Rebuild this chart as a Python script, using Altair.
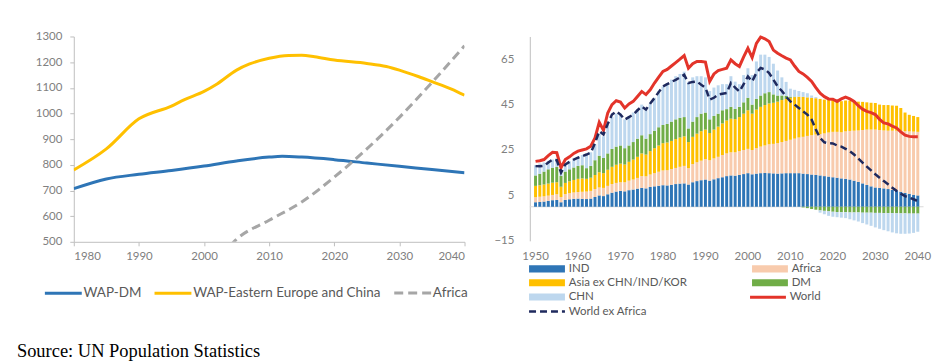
import altair as alt
import pandas as pd

# ---------------- Left panel: working-age population (millions) ----------------
left_names = ["WAP-DM", "WAP-Eastern Europe and China", "Africa"]
left_colors = ["#2E75B6", "#FFC000", "#A6A6A6"]

dm_years = [1980, 1985, 1990, 1995, 2000, 2005, 2010, 2012, 2015, 2020, 2025, 2030, 2035, 2040]
dm_vals = [707, 745, 763, 778, 795, 815, 830, 833, 830, 820, 807, 794, 782, 769]

ee_years = [1980, 1985, 1990, 1995, 1997, 2000, 2002, 2005, 2007, 2010, 2013, 2015, 2017,
            2020, 2025, 2028, 2030, 2033, 2035, 2038, 2040]
ee_vals = [780, 862, 979, 1029, 1054, 1086, 1115, 1169, 1193, 1215, 1226, 1227, 1221,
           1208, 1195, 1183, 1169, 1143, 1124, 1095, 1071]

af_years = [2004, 2005, 2010, 2015, 2020, 2025, 2030, 2035, 2040]
af_vals = [485, 510, 584, 655, 752, 862, 985, 1121, 1264]

# ---------------- Right panel: contributions (stacked bars) ----------------
years = list(range(1950, 2041))
bar_names = ["IND", "Africa", "Asia ex CHN/IND/KOR", "DM", "CHN"]
bar_colors = ["#2E75B6", "#F8CBAD", "#FFC000", "#70AD47", "#BDD7EE"]
# legend reading order (filled column by column)
legend_order = ["IND", "Asia ex CHN/IND/KOR", "CHN", "Africa", "DM"]

ind = [2.0, 2.1, 2.3, 2.6, 2.9, 3.0, 2.0, 3.0, 3.3, 3.5,
       3.6, 3.5, 3.4, 3.6, 4.3, 5.0, 4.7, 5.5, 6.2, 6.7,
       7.0, 6.8, 7.3, 7.6, 8.0, 8.3, 8.1, 8.7, 9.0, 9.3,
       9.5, 9.4, 9.7, 10.0, 10.2, 10.3, 9.8, 10.8, 11.3, 11.7,
       12.0, 11.5, 12.1, 12.6, 13.0, 13.5, 13.8, 13.7, 14.0, 14.4,
       14.8, 14.3, 14.6, 14.8, 14.9, 14.8, 14.7, 14.6, 14.7, 14.8,
       14.8, 14.8, 14.8, 14.6, 14.4, 14.2, 14.0, 13.8, 13.5, 13.3,
       13.0, 12.8, 12.5, 12.3, 12.0, 11.5, 11.0, 10.3, 9.6, 9.0,
       8.5, 8.3, 8.1, 7.8, 7.4, 7.0, 6.6, 6.1, 5.7, 5.3, 5.0]
africa = [2.2, 2.3, 2.3, 2.3, 2.3, 2.5, 2.3, 2.6, 2.7, 2.8,
          2.9, 3.1, 3.3, 3.4, 3.5, 3.5, 3.6, 3.7, 3.8, 3.8,
          3.8, 4.0, 4.2, 4.4, 4.7, 5.2, 5.3, 5.5, 5.8, 6.1,
          6.5, 6.7, 6.9, 7.1, 7.4, 7.7, 7.2, 8.0, 8.3, 8.6,
          9.0, 9.0, 9.2, 9.4, 9.8, 10.0, 10.2, 10.3, 10.5, 10.6,
          10.7, 10.7, 11.2, 11.7, 12.1, 12.7, 13.0, 13.4, 13.8, 14.2,
          14.7, 15.2, 15.7, 16.2, 16.8, 17.3, 17.8, 18.2, 18.8, 19.4,
          20.0, 20.2, 20.3, 20.9, 21.4, 22.0, 22.6, 23.5, 24.4, 25.0,
          25.5, 25.5, 25.5, 25.7, 26.1, 26.5, 26.8, 27.2, 27.5, 27.8, 28.0]
asia = [5.0, 5.1, 5.2, 5.3, 5.4, 5.3, 4.5, 4.9, 5.2, 5.5,
        5.8, 5.9, 5.6, 5.8, 6.2, 6.7, 6.5, 7.1, 7.6, 8.0,
        8.2, 7.8, 8.3, 8.8, 9.3, 10.0, 9.6, 10.3, 11.0, 11.6,
        12.0, 12.2, 12.4, 12.7, 12.9, 13.0, 11.5, 12.0, 12.6, 13.0,
        13.0, 12.0, 12.7, 13.3, 13.9, 14.5, 14.8, 14.6, 15.0, 16.0,
        17.0, 16.0, 17.0, 17.5, 17.8, 18.0, 18.1, 18.3, 18.5, 18.5,
        18.5, 18.3, 18.0, 17.6, 17.0, 16.5, 16.0, 15.5, 14.9, 14.3,
        14.0, 13.8, 13.7, 13.6, 13.4, 13.0, 12.7, 12.4, 12.0, 11.8,
        11.7, 11.2, 11.2, 11.3, 11.1, 11.0, 10.1, 8.2, 7.3, 6.9, 6.5]
dm = [4.6, 5.0, 5.7, 6.3, 6.6, 6.7, 4.7, 5.0, 5.3, 5.5,
      5.7, 5.8, 4.7, 5.2, 6.5, 7.3, 6.7, 7.2, 7.9, 8.0,
      8.0, 7.2, 7.2, 7.7, 8.0, 8.0, 7.0, 7.5, 7.7, 8.0,
      8.0, 8.2, 8.5, 8.7, 8.7, 8.5, 6.0, 6.7, 7.3, 7.7,
      7.5, 6.0, 6.0, 5.7, 5.8, 5.0, 5.2, 4.5, 4.5, 5.0,
      5.5, 4.0, 4.7, 5.0, 5.2, 5.0, 3.7, 2.7, 2.0, 1.3,
      0.5, 0.2, 0.0, -0.3, -0.6, -1.0, -1.3, -1.6, -1.8, -2.0,
      -2.2, -2.3, -2.4, -2.4, -2.5, -2.5, -2.5, -2.6, -2.6, -2.6,
      -2.7, -2.7, -2.8, -2.8, -2.8, -2.9, -2.9, -2.9, -3.0, -3.0, -3.0]
chn = [4.5, 4.5, 4.0, 3.7, 3.6, 3.5, 2.0, 3.0, 3.5, 3.7,
       4.0, 4.5, 6.0, 6.0, 7.0, 9.5, 9.5, 12.5, 14.0, 14.5,
       14.0, 12.7, 13.0, 13.0, 13.0, 13.5, 13.0, 13.5, 14.5, 16.0,
       17.0, 18.0, 18.5, 19.0, 19.3, 20.0, 20.5, 19.5, 18.0, 16.5,
       15.5, 12.5, 12.5, 12.5, 11.5, 11.0, 13.5, 12.0, 10.0, 12.0,
       13.0, 13.0, 16.5, 18.0, 17.0, 15.5, 13.5, 11.0, 8.0, 6.2,
       3.5, 3.0, 2.5, 2.1, 1.8, 1.0, 0.5, -1.0, -1.5, -2.0,
       -2.2, -2.3, -2.4, -2.6, -3.0, -3.5, -4.0, -4.6, -5.2, -5.8,
       -6.4, -7.0, -7.5, -8.0, -8.5, -8.8, -9.0, -9.0, -8.8, -8.5, -8.0]

world = [20.0, 20.3, 20.8, 22.5, 24.0, 23.8, 17.2, 20.8, 22.0, 23.5,
         24.5, 25.0, 25.5, 26.7, 30.3, 37.2, 33.7, 41.3, 45.0, 46.7,
         46.1, 43.5, 45.3, 46.4, 48.6, 50.8, 49.4, 51.5, 54.5, 57.1,
         59.6, 60.5, 62.0, 63.5, 65.0, 66.6, 61.0, 63.0, 64.0, 64.0,
         63.7, 55.2, 58.5, 60.0, 60.5, 61.0, 64.7, 63.0, 61.8, 66.0,
         69.8, 65.7, 72.0, 74.7, 74.0, 72.8, 69.0, 67.6, 66.5, 65.5,
         64.7, 62.0, 59.6, 58.5, 57.0, 55.2, 52.5, 50.0, 48.5, 47.5,
         47.4, 46.4, 47.5, 48.3, 47.5, 46.4, 44.5, 43.0, 42.0, 41.5,
         40.6, 38.5, 36.9, 36.5, 35.5, 34.7, 33.0, 31.5, 31.0, 30.8, 30.8]
world_ex_africa = [17.9, 17.8, 18.0, 19.5, 20.8, 20.5, 15.0, 18.6, 19.8, 20.8,
                   21.6, 22.3, 23.0, 23.8, 28.0, 33.3, 31.8, 36.5, 40.6, 42.0,
                   40.6, 38.4, 39.5, 40.6, 42.5, 44.2, 42.8, 45.5, 47.9, 50.5,
                   53.0, 54.0, 55.0, 55.9, 57.0, 58.1, 54.5, 55.0, 55.2, 53.7,
                   52.5, 47.2, 48.0, 49.4, 49.8, 50.1, 54.5, 52.5, 50.8, 54.0,
                   57.4, 55.2, 59.0, 61.1, 60.5, 58.9, 56.0, 53.0, 51.0, 48.5,
                   46.4, 45.0, 43.5, 42.0, 40.6, 38.4, 34.0, 30.3, 28.4, 28.0,
                   27.9, 27.0, 26.5, 25.5, 24.5, 23.0, 21.2, 19.4, 17.7, 16.0,
                   14.3, 12.8, 11.3, 9.9, 8.4, 7.0, 5.8, 4.7, 4.0, 3.3, 2.5]
line_names = ["World", "World ex Africa"]
world_color = "#E3342A"
wxa_color = "#1F2A5E"

left_ticks_x = [1980, 1990, 2000, 2010, 2020, 2030, 2040]
left_ticks_y = [500, 600, 700, 800, 900, 1000, 1100, 1200, 1300]
right_ticks_x = [1950, 1960, 1970, 1980, 1990, 2000, 2010, 2020, 2030, 2040]
right_ticks_y = [-15, 5, 25, 45, 65]
zero_line = [0]
source_text = "Source: UN Population Statistics"

FONT = "Lato"
TICK_GRAY = "#808080"
LEG_GRAY = "#595959"
AXIS_GRAY = "#BFBFBF"
AF_DASH = [9, 5]
WXA_DASH = [7, 4]

# ---------------- build tables ----------------
solid_df = pd.concat([
    pd.DataFrame({"year": dm_years, "value": dm_vals, "series": left_names[0]}),
    pd.DataFrame({"year": ee_years, "value": ee_vals, "series": left_names[1]}),
], ignore_index=True)
af_df = pd.DataFrame({"year": af_years, "value": af_vals, "afname": left_names[2]})

bar_series = [ind, africa, asia, dm, chn]
bar_df = pd.concat([
    pd.DataFrame({"year": years, "value": vals, "series": name, "rank": i})
    for i, (name, vals) in enumerate(zip(bar_names, bar_series))
], ignore_index=True)

line_df = pd.DataFrame({"year": years, "world": world, "wxa": world_ex_africa,
                        "wl": line_names[0], "wxl": line_names[1]})

leg_common = dict(title=None, orient="none", padding=0, labelFont=FONT, labelColor=LEG_GRAY,
                  labelLimit=400)

# ---------------- left chart ----------------
lx = alt.X("year:Q", scale=alt.Scale(domain=[1980, 2040], nice=False, zero=False),
           axis=alt.Axis(values=left_ticks_x, format="d", title=None, grid=False,
                         tickSize=4, labelPadding=5))
ly = alt.Y("value:Q", scale=alt.Scale(domain=[500, 1300], nice=False, zero=False),
           axis=alt.Axis(values=left_ticks_y, format="d", title=None, grid=False,
                         tickSize=4, labelPadding=8))

solid_lines = alt.Chart(solid_df).mark_line(strokeWidth=3, interpolate="monotone", clip=True).encode(
    x=lx, y=ly,
    color=alt.Color("series:N", scale=alt.Scale(domain=left_names[:2], range=left_colors[:2]),
                    legend=alt.Legend(legendX=-29, legendY=250.5, direction="horizontal",
                                      columns=2, columnPadding=7,
                                      symbolType="M-5,0L5,0", symbolSize=54.76,
                                      symbolStrokeWidth=3, symbolOffset=11.75, labelOffset=13.5,
                                      labelFontSize=13.5, **leg_common)),
)
af_line = alt.Chart(af_df).mark_line(strokeWidth=3, interpolate="monotone", clip=True,
                                     color=left_colors[2], strokeDash=AF_DASH).encode(
    x=lx, y=ly,
    opacity=alt.Opacity("afname:N", scale=alt.Scale(domain=[left_names[2]], range=[1]),
                        legend=alt.Legend(legendX=321.5, legendY=250.5,
                                          symbolType="M-5,0L5,0", symbolSize=54.76,
                                          symbolStrokeWidth=3, symbolStrokeColor=left_colors[2],
                                          symbolDash=AF_DASH, symbolOpacity=1,
                                          symbolOffset=11.75, labelOffset=13.5,
                                          labelFontSize=13.5, **leg_common)),
)
left = alt.layer(solid_lines, af_line).properties(width=392, height=206)

# ---------------- right chart ----------------
xr = alt.X("year:O", scale=alt.Scale(paddingInner=0.3, paddingOuter=1),
           axis=alt.Axis(values=right_ticks_x, labelAngle=0, title=None, domain=False,
                         ticks=False, labelPadding=10))
yr = alt.Y("value:Q", scale=alt.Scale(domain=[-15, 75], nice=False, zero=False),
           axis=alt.Axis(values=right_ticks_y, title=None, grid=False, ticks=False,
                         labelPadding=16))

zero_rule = alt.Chart(pd.DataFrame({"value": zero_line})).mark_rule(
    color="#D9D9D9", strokeWidth=1).encode(y=yr)

color_of = dict(zip(bar_names, bar_colors))
bars = alt.Chart(bar_df).mark_bar().encode(
    x=xr,
    y=alt.Y("value:Q", stack="zero", scale=alt.Scale(domain=[-15, 75], nice=False, zero=False),
            axis=alt.Axis(values=right_ticks_y, title=None, grid=False, ticks=False,
                          labelPadding=16)),
    fill=alt.Fill("series:N",
                  scale=alt.Scale(domain=legend_order, range=[color_of[n] for n in legend_order]),
                  legend=alt.Legend(legendX=457, legendY=227, direction="vertical",
                                    columns=2, columnPadding=63.7, rowPadding=1.3,
                                    symbolType="M-5,-1L5,-1L5,1L-5,1Z", symbolSize=51.84,
                                    symbolStrokeWidth=0, symbolOffset=12, labelOffset=16,
                                    symbolOpacity=1, labelFontSize=11.5, **leg_common)),
    order=alt.Order("rank:Q"),
)

world_line = alt.Chart(line_df).mark_line(strokeWidth=3).encode(
    x=xr,
    y=alt.Y("world:Q"),
    stroke=alt.Stroke("wl:N", scale=alt.Scale(domain=[line_names[0]], range=[world_color]),
                      legend=alt.Legend(legendX=678.7, legendY=255.8,
                                        symbolType="M-5,0L5,0", symbolSize=51.84,
                                        symbolStrokeWidth=3, symbolOffset=12, labelOffset=16,
                                        labelFontSize=11.5, **leg_common)),
)

wxa_line = alt.Chart(line_df).mark_line(strokeWidth=2.5, color=wxa_color).encode(
    x=xr,
    y=alt.Y("wxa:Q"),
    strokeDash=alt.StrokeDash("wxl:N", scale=alt.Scale(domain=[line_names[1]], range=[WXA_DASH]),
                              legend=alt.Legend(legendX=457, legendY=270.2,
                                                symbolType="M-5,0L5,0", symbolSize=51.84,
                                                symbolStrokeWidth=2.5, symbolStrokeColor=wxa_color,
                                                symbolDash=WXA_DASH, symbolOpacity=1,
                                                symbolOffset=12, labelOffset=16,
                                                labelFontSize=11.5, **leg_common)),
)

right = alt.layer(zero_rule, bars, world_line, wxa_line).properties(width=395, height=205)

chart = alt.hconcat(left, right, spacing=27.5).properties(
    title=alt.TitleParams(text=source_text, orient="bottom", anchor="start",
                          font="Liberation Serif", fontSize=18.5, fontWeight="normal",
                          color="#000000", offset=24, dx=-17.9),
    padding={"left": 8, "top": 21, "right": 0, "bottom": 0},
    background="white",
).configure_view(stroke="transparent").configure_axis(
    labelFont=FONT, labelFontSize=11.5, labelColor=TICK_GRAY,
    domainColor=AXIS_GRAY, tickColor=AXIS_GRAY,
)

chart.save("out.html", embed_options={"renderer": "svg", "actions": False})
